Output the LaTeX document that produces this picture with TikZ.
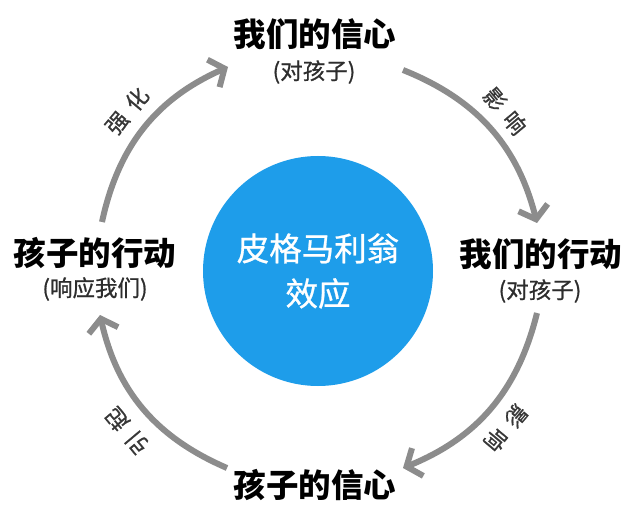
\documentclass[tikz,border=0pt]{standalone}
\usepackage{fontspec}
\newfontfamily\cjk{Noto Sans CJK SC}
\newfontfamily\cjkm{Noto Sans CJK SC}[FakeBold=0.8]
\usetikzlibrary{arrows.meta}
\definecolor{effblue}{RGB}{30,157,234}
\definecolor{arrowgray}{RGB}{140,140,140}
\definecolor{labgray}{RGB}{55,55,55}
\definecolor{subgray}{RGB}{45,45,45}
\begin{document}
\begin{tikzpicture}[x=1pt,y=1pt,
  head/.style={font=\cjk\bfseries\fontsize{32.5}{36}\selectfont, text=black, inner sep=0pt},
  sub/.style={font=\cjkm\fontsize{22.5}{24}\selectfont, text=subgray, inner sep=0pt},
  lab/.style={font=\cjkm\fontsize{22}{24}\selectfont, text=labgray, inner sep=0pt},
  arr/.style={draw=arrowgray, line width=6pt, -{Straight Barb[length=12pt,width=30pt]}},
]
\useasboundingbox[fill=white] (0,0) rectangle (640,-505);
% central circle
\node[circle, fill=effblue, minimum size=230pt, inner sep=0pt, text=white, align=center,
      font=\cjkm\fontsize{32.5}{45}\selectfont] (eff) at (318,-271) {皮格马利翁\\效应};
% headings
\node[head] (top) at (315,-34) {我们的信心};
\node[sub] (topsub) at (314,-72) {(对孩子)};
\node[head] (right) at (541,-254) {我们的行动};
\node[sub] (rightsub) at (540,-291) {(对孩子)};
\node[head] (bottom) at (315,-485) {孩子的信心};
\node[head] (left) at (95,-253) {孩子的行动};
\node[sub] (leftsub) at (95,-289) {(响应我们)};
% arrow end points
\coordinate (a1s) at (102,-222); \coordinate (a1e) at (228,-67);
\coordinate (a2s) at (403,-70);  \coordinate (a2e) at (537,-223);
\coordinate (a3s) at (537,-313); \coordinate (a3e) at (403,-468);
\coordinate (a4s) at (227,-468); \coordinate (a4e) at (100,-315);
\draw[arr] (a1s) to[bend left=27] (a1e);
\draw[arr] (a2s) to[bend left=27] (a2e);
\draw[arr] (a3s) to[bend left=27] (a3e);
\draw[arr] (a4s) to[bend left=27] (a4e);
% arrow labels
\node[lab, rotate=50] (l1) at (127,-111) {强\hspace{9pt}化};
\node[lab, rotate=-50] (l2) at (505,-111) {影\hspace{9pt}响};
\node[lab, rotate=-130] (l3) at (506,-428) {影\hspace{9pt}响};
\node[lab, rotate=130] (l4) at (127,-431) {引\hspace{9pt}起};
\end{tikzpicture}
\end{document}
